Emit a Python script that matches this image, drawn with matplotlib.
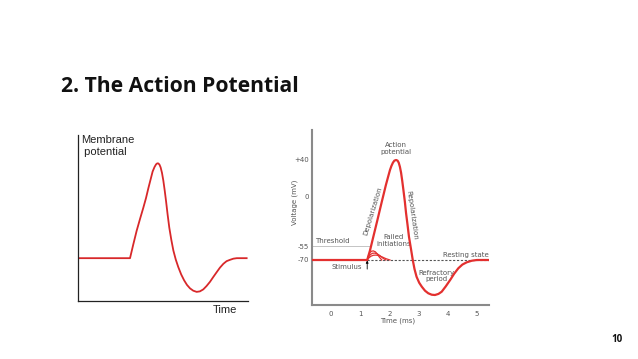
import matplotlib.pyplot as plt

# left sketch: generic membrane potential vs time (arbitrary units)
left_t = [0, 3.06, 3.25, 3.45, 3.65, 3.84, 4.0, 4.14, 4.27, 4.39, 4.50, 4.59, 4.66, 4.72,
          4.79, 4.86, 4.94, 5.02, 5.10, 5.18, 5.27, 5.37, 5.49, 5.61, 5.75, 5.90, 6.07,
          6.24, 6.41, 6.59, 6.78, 6.98, 7.17, 7.37, 7.56, 7.76, 7.96, 8.16, 8.35, 8.55,
          8.74, 8.94, 9.14, 9.34, 9.92]
left_v = [2.58, 2.58, 3.4, 4.23, 4.95, 5.61, 6.2, 6.80, 7.32, 7.80, 8.07, 8.23, 8.29, 8.29,
          8.22, 8.05, 7.72, 7.25, 6.66, 6.01, 5.22, 4.42, 3.68, 3.04, 2.50, 2.04, 1.60,
          1.25, 0.97, 0.76, 0.62, 0.55, 0.58, 0.70, 0.90, 1.15, 1.45, 1.74, 2.01, 2.24,
          2.40, 2.48, 2.55, 2.58, 2.58]

# right diagram: voltage (mV) vs time (ms)
ap_t = [-0.66, 1.24, 1.34, 1.45, 1.59, 1.74, 1.88, 1.96, 2.02, 2.07, 2.12, 2.17, 2.23,
        2.28, 2.32, 2.36, 2.40, 2.44, 2.48, 2.53, 2.57, 2.62, 2.67, 2.74, 2.80, 2.86,
        2.93, 3.02, 3.11, 3.22, 3.33, 3.45, 3.56, 3.68, 3.79, 3.93, 4.08, 4.22, 4.36,
        4.50, 4.65, 4.82, 5.0, 5.4]
ap_v = [-70, -70, -59, -44.4, -26, -5.9, 12.5, 22, 29, 33.5, 37, 39.3, 40,
        39.3, 37, 32.5, 26, 17, 7, -6, -18.3, -31, -44.4, -58, -70, -80,
        -88.4, -95, -99.4, -103.8, -106.6, -108.2, -108.5, -107.3, -104.9, -99, -92, -85, -79.1,
        -75, -72.5, -70.8, -70, -70]

failed_t = [
    [1.24, 1.28, 1.33, 1.39, 1.45, 1.52, 1.59, 1.66, 1.74],
    [1.24, 1.29, 1.35, 1.42, 1.50, 1.58, 1.67, 1.77, 1.88],
    [1.24, 1.30, 1.37, 1.45, 1.54, 1.64, 1.75, 1.88, 2.02],
]
failed_v = [
    [-70, -65.5, -62, -60.3, -60, -61, -63.5, -67, -70],
    [-70, -66.5, -64, -62.6, -62.4, -63.2, -65, -67.8, -70],
    [-70, -67.6, -65.8, -64.8, -64.6, -65.2, -66.6, -68.5, -70],
]

x_ticks = [0, 1, 2, 3, 4, 5]
y_ticks = [40, 0, -55, -70]
y_labels = ['+40', '0', '-55', '-70']

red = '#e3302f'
grey_txt = '#555555'

fig = plt.figure(figsize=(6.38, 3.59), dpi=100)

fig.text(61 / 638, 1 - 92 / 359, '2. The Action Potential', ha='left', va='baseline',
         fontsize=15.2, fontweight='bold', family='Open Sans', color='#111111')
fig.text(617 / 638, 1 - 339 / 359, '10', ha='center', va='center',
         fontsize=7, fontweight='bold', family='Open Sans', color='#111111')

# ---- left plot
ax1 = fig.add_axes([78 / 638, 58 / 359, 170 / 638, 166 / 359])
ax1.plot(left_t, left_v, color='#d8282a', lw=1.3)
ax1.set_xlim(0, 10)
ax1.set_ylim(0, 10)
ax1.spines['top'].set_visible(False)
ax1.spines['right'].set_visible(False)
for s in ['left', 'bottom']:
    ax1.spines[s].set_color('#222222')
    ax1.spines[s].set_linewidth(0.9)
ax1.set_xticks([])
ax1.set_yticks([])
ax1.text(0.02, 1.0, 'Membrane\n potential', transform=ax1.transAxes, ha='left', va='top',
         fontsize=8, family='Liberation Sans', color='#222222', linespacing=1.3)
ax1.text(0.935, -0.055, 'Time', transform=ax1.transAxes, ha='right', va='center',
         fontsize=8, family='Liberation Sans', color='#222222')

# ---- right plot
ax2 = fig.add_axes([311.7 / 638, 54 / 359, 177 / 638, 175 / 359])
ax2.plot([-0.66, 1.3], [-55, -55], color='#c4c4c4', lw=0.7, zorder=1)
ax2.plot([1.24, 5.4], [-70, -70], color='#555555', lw=0.8, ls=(0, (2, 1.5)), zorder=2)
for ft, fv in zip(failed_t, failed_v):
    ax2.plot(ft, fv, color=red, lw=0.9, zorder=3)
ax2.plot(ap_t, ap_v, color=red, lw=1.6, zorder=4)
ax2.set_xlim(-0.66, 5.4)
ax2.set_ylim(-119.5, 73)
ax2.spines['top'].set_visible(False)
ax2.spines['right'].set_visible(False)
for s in ['left', 'bottom']:
    ax2.spines[s].set_color('#8a8a8a')
    ax2.spines[s].set_linewidth(1.5)
ax2.set_xticks(x_ticks)
ax2.set_yticks(y_ticks)
ax2.set_yticklabels(y_labels)
ax2.tick_params(length=0, labelsize=5, labelcolor=grey_txt)
ax2.tick_params(axis='x', pad=4)
ax2.tick_params(axis='y', pad=2)

kw = dict(fontsize=5, color=grey_txt, family='DejaVu Sans')
ax2.text(2.23, 53, 'Action\npotential', ha='center', va='center', linespacing=1.2, **kw)
ax2.text(1.44, -16, 'Depolarization', ha='center', va='center', rotation=73, **kw)
ax2.text(2.77, -20.5, 'Repolarization', ha='center', va='center', rotation=-82, **kw)
ax2.text(-0.55, -49.5, 'Threshold', ha='left', va='center', **kw)
ax2.text(2.13, -48.5, 'Failed\ninitiations', ha='center', va='center', linespacing=1.2, **kw)
ax2.text(5.4, -64.5, 'Resting state', ha='right', va='center', **kw)
ax2.text(1.07, -77.7, 'Stimulus', ha='right', va='center', **kw)
ax2.text(3.62, -87.6, 'Refractory\nperiod', ha='center', va='center', linespacing=1.2, **kw)
ax2.annotate('', xy=(1.24, -70.5), xytext=(1.24, -80),
             arrowprops=dict(arrowstyle='-|>', color='black', lw=0.6,
                             mutation_scale=3.5, shrinkA=0, shrinkB=0))

fig.text(295 / 638, 1 - 202 / 359, 'Voltage (mV)', rotation=90, ha='center', va='center', **kw)
fig.text(398 / 638, 1 - 321 / 359, 'Time (ms)', ha='center', va='center', **kw)

fig.savefig('out.png', dpi=100)
